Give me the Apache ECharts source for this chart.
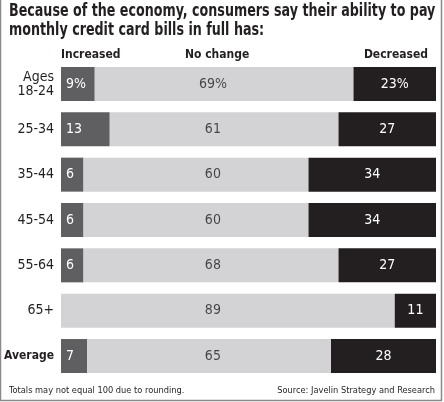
<!DOCTYPE html>
<html>
<head>
<meta charset="utf-8">
<script src="https://cdn.jsdelivr.net/npm/echarts@6/dist/echarts.min.js"></script>
<style>
  html, body { margin: 0; padding: 0; background: #fff; }
  #chart { width: 444px; height: 402px; }
</style>
</head>
<body>
<div id="chart"></div>
<script>
var ageGroups = ['Ages\n18-24', '25-34', '35-44', '45-54', '55-64', '65+', 'Average'];
var increased = [9, 13, 6, 6, 6, 0, 7];
var noChange  = [69, 61, 60, 60, 68, 89, 65];
var decreased = [23, 27, 34, 34, 27, 11, 28];

var FONT = '"DejaVu Sans Condensed", "Liberation Sans Narrow", sans-serif';
var NOCHANGE_COL = 40.5; // column where the "No change" numbers sit

function fmt(params){
    var v = Array.isArray(params.value) ? params.value[2] : params.value;
    if (!v) return '';
    return params.dataIndex === 0 ? v + '%' : String(v);
}

var myChart = echarts.init(document.getElementById('chart'));
var option = {
    animation: false,
    grid: { left: 61, right: 8, top: 61.3, bottom: 23.3, outerBoundsMode: 'none', containLabel: false },
    xAxis: {
        type: 'value', min: 0, max: 100, show: false
    },
    yAxis: {
        type: 'category',
        inverse: true,
        data: ageGroups,
        axisLine: { show: false },
        axisTick: { show: false },
        axisLabel: {
            margin: 7, fontFamily: FONT, fontSize: 14, color: '#231f20', lineHeight: 14,
            formatter: function(v){ return v === 'Average' ? '{b|Average}' : v; },
            rich: { b: { fontFamily: FONT, fontSize: 12, fontWeight: 'bold', color: '#231f20' } }
        }
    },
    series: [
        {
            name: 'Increased', type: 'bar', stack: 'all', barWidth: 34, data: increased,
            itemStyle: { color: '#5f5f61' },
            label: { show: true, position: 'insideLeft', distance: 5, formatter: fmt,
                     fontFamily: FONT, fontSize: 14, color: '#fff' }
        },
        {
            name: 'No change', type: 'bar', stack: 'all', barWidth: 34, data: noChange,
            itemStyle: { color: '#d3d3d5' }
        },
        {
            name: 'Decreased', type: 'bar', stack: 'all', barWidth: 34, data: decreased,
            itemStyle: { color: '#231f20' },
            label: { show: true, position: 'inside', formatter: fmt,
                     fontFamily: FONT, fontSize: 14, color: '#fff' }
        },
        {
            name: 'No change labels', type: 'scatter', symbolSize: 0, silent: true,
            data: noChange.map(function(v, i){ return [NOCHANGE_COL, i, v]; }),
            label: { show: true, position: 'inside', formatter: fmt,
                     fontFamily: FONT, fontSize: 14, color: '#231f20' },
            z: 5
        }
    ],
    graphic: [
        { type: 'text', x: 9, y: 2, scaleX: 0.83, style: {
            text: 'Because of the economy, consumers say their ability to pay\nmonthly credit card bills in full has:',
            font: 'bold 17px ' + FONT, lineHeight: 19, fill: '#231f20' } },
        { type: 'text', left: 61, top: 49, style: { text: 'Increased', font: 'bold 12px ' + FONT, fill: '#231f20' } },
        { type: 'text', left: 185, top: 49, style: { text: 'No change', font: 'bold 12px ' + FONT, fill: '#231f20' } },
        { type: 'text', right: 16, top: 49, style: { text: 'Decreased', font: 'bold 12px ' + FONT, fill: '#231f20' } },
        { type: 'text', left: 9, top: 386, style: { text: 'Totals may not equal 100 due to rounding.', font: '9.2px ' + FONT, fill: '#231f20' } },
        { type: 'text', right: 9, top: 386, style: { text: 'Source: Javelin Strategy and Research', font: '9.2px ' + FONT, fill: '#231f20' } },
        { type: 'line', shape: { x1: 0.5, y1: 0, x2: 0.5, y2: 400.5 }, style: { stroke: '#8a8a8a', lineWidth: 1.5 } },
        { type: 'line', shape: { x1: 441.5, y1: 0, x2: 441.5, y2: 400.5 }, style: { stroke: '#8a8a8a', lineWidth: 1.5 } },
        { type: 'line', shape: { x1: 0, y1: 400.5, x2: 442, y2: 400.5 }, style: { stroke: '#8a8a8a', lineWidth: 1.5 } }
    ]
};
myChart.setOption(option);
</script>
</body>
</html>
